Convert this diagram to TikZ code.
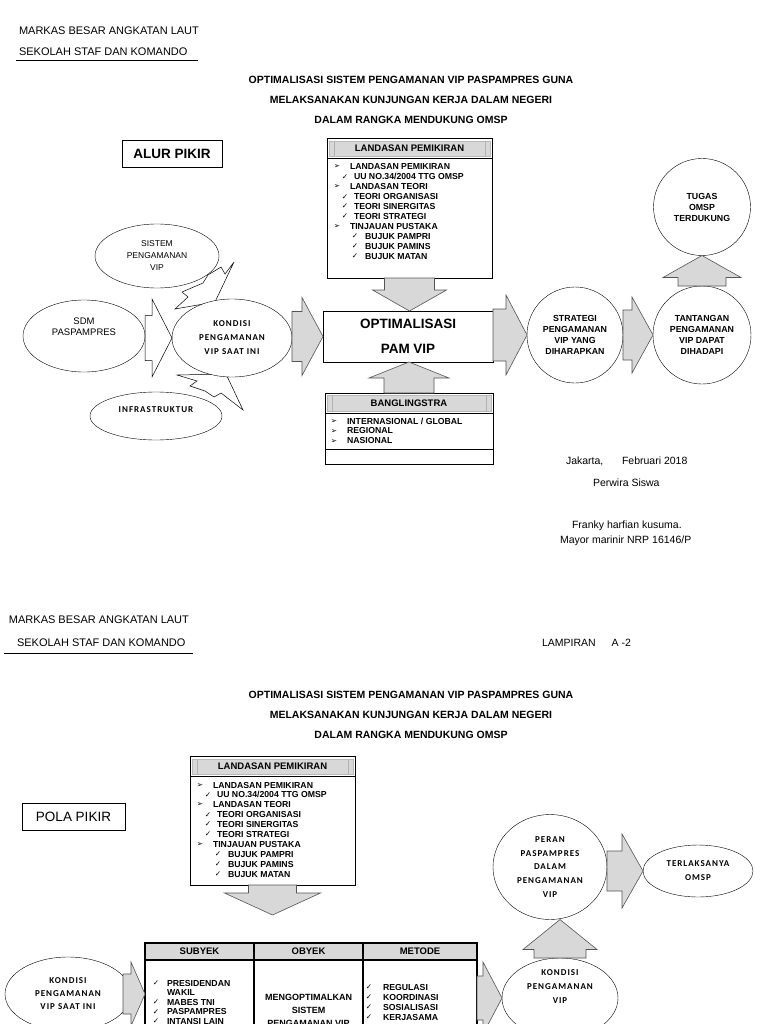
\documentclass[tikz,border=0pt]{standalone}
\usepackage{fontspec}
\setmainfont{Liberation Sans}
\newfontfamily\calib[LetterSpace=11]{Carlito}
\newfontfamily\symf{DejaVu Sans}
\usetikzlibrary{shapes.geometric,calc,positioning}
\definecolor{BoxGray}{RGB}{216,216,216}
\definecolor{EdgeGray}{RGB}{85,85,85}
\newcommand{\fs}[2]{\fontsize{#1}{#2}\selectfont}
% block arrow: [style]{tail}{tip}{half shaft}{half head}{head length}
\newcommand{\blockarrow}[6][]{%
  \coordinate (ba-head) at ($(#3)!#6!(#2)$);
  \draw[#1] ($(#2)!#4!90:(#3)$) -- ($(ba-head)!#4!90:(#3)$) -- ($(ba-head)!#5!90:(#3)$) -- (#3)
    -- ($(ba-head)!#5!-90:(#3)$) -- ($(ba-head)!#4!-90:(#3)$) -- ($(#2)!#4!-90:(#3)$) -- cycle;}
% the landasan pemikiran list box: {name}{left}{top}{height}
\newcommand{\landasanbox}[4]{%
  \node[listbox, minimum height=#4pt, anchor=north west] (#1) at (#2,#3) {};
  \node[headband] (#1-head) at ($(#1.north)+(0,10.5)$) {LANDASAN PEMIKIRAN};
  \draw[gray!60] ([xshift=5pt]#1-head.north west) -- ([xshift=5pt]#1-head.south west);
  \draw[gray!60] ([xshift=-5pt]#1-head.north east) -- ([xshift=-5pt]#1-head.south east);
  \draw ($(#1.north west)+(0,20)$) -- ($(#1.north east)+(0,20)$);
  \foreach \lvl/\txt [count=\i] in {0/LANDASAN PEMIKIRAN, 1/{UU NO.34/2004 TTG OMSP}, 0/LANDASAN TEORI,
      1/TEORI ORGANISASI, 1/TEORI SINERGITAS, 1/TEORI STRATEGI, 0/TINJAUAN PUSTAKA,
      2/BUJUK PAMPRI, 2/BUJUK PAMINS, 2/BUJUK MATAN}{
    \pgfmathsetmacro{\bx}{{10,18,28}[\lvl]}
    \pgfmathsetmacro{\tx}{{23,27,38}[\lvl]}
    \pgfmathsetmacro{\ty}{29+9.9*(\i-1)}
    \node[listsym] (#1-s\i) at ($(#1.north west)+(\bx,\ty)$) {\ifnum\lvl=0 ➢\else ✓\fi};
    \node[listtxt] (#1-t\i) at ($(#1.north west)+(\tx,\ty)$) {\txt};
  }}

\begin{document}
\begin{tikzpicture}[x=1pt, y=-1pt,
    every node/.style={inner sep=0pt, outer sep=0pt},
    plain/.style={anchor=west, font=\fs{11}{13}},
    title/.style={font=\bfseries\fs{10.5}{12}},
    frame/.style={draw, rectangle},
    listbox/.style={draw, rectangle, minimum width=165pt},
    headband/.style={draw=gray!55, fill=BoxGray, minimum width=161pt, minimum height=15pt, font=\bfseries\fs{9.5}{11}},
    listtxt/.style={anchor=west, font=\bfseries\fs{8.7}{10}},
    listsym/.style={font=\symf\fs{7.5}{8}},
    oval/.style={ellipse, draw, fill=white, align=center},
    ring/.style={circle, draw, fill=white, align=center, font=\bfseries\fs{8.8}{11}},
    garrow/.style={draw=EdgeGray, fill=BoxGray, line width=0.6pt},
    warrow/.style={draw=black, line width=0.5pt},
    bolt/.style={draw=black, fill=white, line width=0.5pt},
    sign/.style={anchor=west, font=\fs{10.5}{12}},
    calibri/.style={font=\calib\bfseries\fs{9}{#1}},
    thead/.style={draw, line width=1.1pt, fill=BoxGray, minimum height=17pt, font=\bfseries\fs{9.5}{11}},
    tbody/.style={draw, line width=1.1pt, minimum height=80pt}]
    \useasboundingbox (0,0) rectangle (768,1024);
    \clip (0,0) rectangle (768,1024);
    \fill[white] (0,0) rectangle (768,1024);

    % Draw the page heading
    \node[plain] (hq1) at (19,31) {MARKAS BESAR ANGKATAN LAUT};
    \node[plain] (hq2) at (19,52) {SEKOLAH STAF DAN KOMANDO};
    \draw (16,60) -- (198,60);
    \foreach \txt[count=\c] in {OPTIMALISASI SISTEM PENGAMANAN VIP PASPAMPRES GUNA,
        MELAKSANAKAN KUNJUNGAN KERJA DALAM NEGERI, DALAM RANGKA MENDUKUNG OMSP}{
        \node[title] (ta\c) at (411,60+20*\c) {\txt};
    }
    \node[frame, minimum width=100pt, minimum height=27pt, font=\bfseries\fs{13.5}{15}] (alur) at (172,153.5) {ALUR PIKIR};

    % Draw the landasan and banglingstra boxes
    \landasanbox{land}{327}{138}{140}
    \node[listbox, minimum width=168pt, minimum height=71pt, anchor=north west] (bang) at (325,393) {};
    \node[headband, minimum width=164pt, minimum height=16pt] (bang-head) at ($(bang.north)+(0,10)$) {BANGLINGSTRA};
    \draw[gray!60] ([xshift=5pt]bang-head.north west) -- ([xshift=5pt]bang-head.south west);
    \draw[gray!60] ([xshift=-5pt]bang-head.north east) -- ([xshift=-5pt]bang-head.south east);
    \draw ($(bang.north west)+(0,20)$) -- ($(bang.north east)+(0,20)$);
    \foreach \txt[count=\i] in {{INTERNASIONAL / GLOBAL}, REGIONAL, NASIONAL}{
        \node[listsym] (bang-s\i) at ($(bang.north west)+(9,18+10*\i)$) {➢};
        \node[listtxt] (bang-t\i) at ($(bang.north west)+(22,18+10*\i)$) {\txt};
    }
    \draw ($(bang.north west)+(0,56)$) -- ($(bang.north east)+(0,56)$);

    % the central box and the circles
    \node[frame, minimum width=170pt, minimum height=51pt, align=center, font=\bfseries\fs{13.5}{25}] (opt) at (408,336.5) {OPTIMALISASI\\PAM VIP};
    \node[ring, minimum size=96pt] (strat) at (575,335) {STRATEGI\\PENGAMANAN\\VIP YANG\\DIHARAPKAN};
    \node[ring, minimum size=98pt] (tant) at (702,335) {TANTANGAN\\PENGAMANAN\\VIP DAPAT\\DIHADAPI};
    \node[ring, minimum size=97pt] (tugas) at (702,207) {TUGAS\\OMSP\\TERDUKUNG};

    % the input ellipses
    \node[oval, minimum width=124pt, minimum height=64pt, font=\fs{8.5}{12}] (sistem) at (157,256) {SISTEM\\PENGAMANAN\\VIP};
    \node[oval, minimum width=122pt, minimum height=72pt] (sdm) at (84,336) {};
    \node[font=\fs{9.5}{11}, align=center] (sdm-t) at (84,327) {SDM\\PASPAMPRES};
    \node[oval, minimum width=132pt, minimum height=48pt] (infra) at (156,416) {};
    \node[calibri=10] (infra-t) at (156,410) {INFRASTRUKTUR};

    % the two zigzag arrows, under the kondisi ellipse
    \draw[bolt] (175,309) -- (188,297) -- (182,292) -- (203,283) -- (208,275) -- (221,267) -- (225,274) -- (234,262) -- (215,302) -- cycle;
    \draw[bolt] (177,375) -- (197,381) -- (190,386) -- (205,391) -- (214,397) -- (221,393) -- (243,410) -- (226,374) -- cycle;
    \node[oval, minimum width=120pt, minimum height=78pt, calibri=14] (kond) at (232,338) {KONDISI\\PENGAMANAN\\VIP SAAT INI};

    % Draw the block arrows
    \coordinate (sdm-a) at (sdm.east |- kond.west);
    \blockarrow[warrow]{sdm-a}{kond.west}{22.5pt}{39pt}{20pt}
    \coordinate (kond-a) at (kond.east |- opt.west);
    \blockarrow[garrow]{kond-a}{opt.west}{25pt}{39pt}{21pt}
    \coordinate (opt-a) at (opt.east |- strat.west);
    \blockarrow[garrow]{opt-a}{strat.west}{26pt}{40pt}{21pt}
    \blockarrow[garrow]{strat.east}{tant.west}{25pt}{38pt}{21pt}
    \blockarrow[garrow]{tant.north}{tugas.south}{24pt}{39pt}{22pt}
    \coordinate (land-a) at (land.south |- opt.north);
    \blockarrow[garrow]{land.south}{land-a}{25pt}{37pt}{21pt}
    \coordinate (bang-a) at (bang.north |- opt.south);
    \blockarrow[garrow]{bang.north}{bang-a}{25pt}{40pt}{16pt}

    % the signature
    \node[sign] (city) at (566,461) {Jakarta,};
    \node[sign] (date) at (622,461) {Februari 2018};
    \node[sign] (rank) at (593,483) {Perwira Siswa};
    \node[sign] (who) at (572,526) {Franky harfian kusuma.};
    \node[sign] (nrp) at (560,541) {Mayor marinir NRP 16146/P};

    % Draw the second page heading
    \node[plain] (hqb1) at (9,620) {MARKAS BESAR ANGKATAN LAUT};
    \node[plain] (hqb2) at (17,643) {SEKOLAH STAF DAN KOMANDO};
    \draw (4,653) -- (193,653);
    \node[anchor=west, font=\fs{10.5}{12}] (lamp) at (542,643) {LAMPIRAN\hspace{16pt}A -2};
    \foreach \txt[count=\c] in {OPTIMALISASI SISTEM PENGAMANAN VIP PASPAMPRES GUNA,
        MELAKSANAKAN KUNJUNGAN KERJA DALAM NEGERI, DALAM RANGKA MENDUKUNG OMSP}{
        \node[title] (tb\c) at (411,675+20*\c) {\txt};
    }
    \node[frame, minimum width=103pt, minimum height=27pt, font=\fs{13.5}{15}] (pola) at (73.5,816.5) {POLA PIKIR};
    \landasanbox{landb}{190}{756}{129}
    \coordinate (landb-tip) at ($(landb.south)+(0,30)$);
    \blockarrow[garrow]{landb.south}{landb-tip}{24pt}{48pt}{22pt}

    % the table
    \node[thead, minimum width=109pt] (subyek) at (199.5,951.5) {SUBYEK};
    \node[thead, minimum width=109pt, right=0pt of subyek] (obyek) {OBYEK};
    \node[thead, minimum width=114pt, right=0pt of obyek] (metode) {METODE};
    \node[tbody, minimum width=109pt, below=0pt of subyek] (subyek-b) {};
    \node[tbody, minimum width=109pt, below=0pt of obyek] (obyek-b) {};
    \node[tbody, minimum width=114pt, below=0pt of metode] (metode-b) {};
    \foreach \m/\txt[count=\i] in {1/PRESIDENDAN, 0/WAKIL, 1/MABES TNI, 1/PASPAMPRES, 1/INTANSI LAIN}{
        \node[listsym] (sub-s\i) at (156,973.4+9.6*\i) {\ifnum\m=1 ✓\fi};
        \node[listtxt] (sub-t\i) at (167,973.4+9.6*\i) {\txt};
    }
    \node[align=center, font=\bfseries\fs{9}{13}] (obyek-t) at (308.5,1010) {MENGOPTIMALKAN\\SISTEM\\PENGAMANAN VIP};
    \foreach \txt[count=\i] in {REGULASI, KOORDINASI, SOSIALISASI, KERJASAMA}{
        \node[listsym] (met-s\i) at (369,977+10*\i) {✓};
        \node[listtxt] (met-t\i) at (383,977+10*\i) {\txt};
    }

    % the ellipses of the second picture
    \node[oval, minimum width=126pt, minimum height=74pt, calibri=13] (kondb) at (68,994) {KONDISI\\PENGAMANAN\\VIP SAAT INI};
    \node[oval, minimum width=116pt, minimum height=80pt] (kond2) at (560,998) {};
    \node[calibri=14, align=center] (kond2-t) at (560,987) {KONDISI\\PENGAMANAN\\VIP};
    \node[oval, minimum width=114pt, minimum height=105pt, calibri=13.8] (peran) at (550,867) {PERAN\\PASPAMPRES\\DALAM\\PENGAMANAN\\VIP};
    \node[oval, minimum width=110pt, minimum height=52pt, calibri=14] (terl) at (698,871) {TERLAKSANYA\\OMSP};

    % Draw the block arrows of the second picture
    \coordinate (kondb-a) at ($(kondb.east)+(-8,0)$);
    \coordinate (kondb-b) at (kondb.east -| subyek-b.west);
    \blockarrow[garrow]{kondb-a}{kondb-b}{20pt}{32pt}{14pt}
    \coordinate (met-a) at (metode-b.east |- kond2.west);
    \blockarrow[garrow]{met-a}{kond2.west}{22pt}{36pt}{19pt}
    \coordinate (kond2-a) at (kond2.north |- peran.south);
    \blockarrow[garrow]{kond2.north}{kond2-a}{26pt}{37pt}{30pt}
    \coordinate (peran-a) at (peran.east |- terl.west);
    \blockarrow[garrow]{peran-a}{terl.west}{20pt}{37pt}{21pt}
\end{tikzpicture}
\end{document}
